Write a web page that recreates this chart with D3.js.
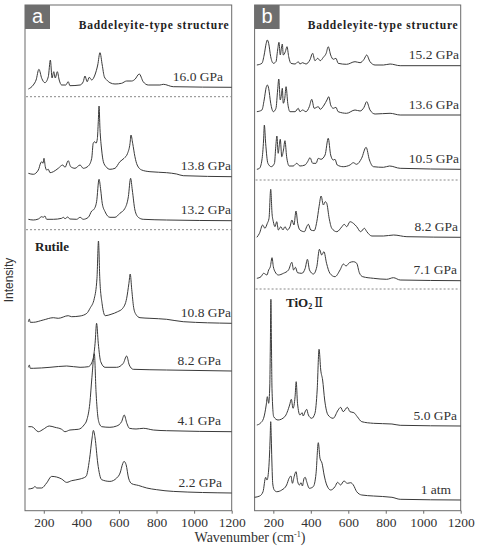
<!DOCTYPE html>
<html>
<head>
<meta charset="utf-8">
<style>
  body { margin: 0; background: #fff; }
  text { font-family: "Liberation Serif", "Times New Roman", serif; fill: #333; }
</style>
</head>
<body>
<script src="https://cdn.jsdelivr.net/npm/d3@7/dist/d3.min.js"></script>
<script>

// ---- data: [wavenumber, intensity above the spectrum's own baseline] ----
var a16_0 = [[118,-1.7],[144,2.3],[159,7.3],[174,18],[189,9],[206,4.6],[224,10.6],[235,27.3],[244,9.3],[253,15.6],[261,9.3],[272,15.6],[282,7.3],[295,2.3],[317,2.3],[330,5.6],[339,1.6],[393,2.3],[410,5.6],[419,11.3],[431,5.6],[442,10],[455,7.3],[472,12.3],[487,22.3],[499,34.6],[511,22.3],[522,10.6],[535,7.3],[552,4.6],[579,3.3],[614,4],[641,6.3],[668,6.3],[685,8],[708,13.3],[729,5.6],[756,2.3],[818,2.3],[836,3],[889,0.6],[1200,0]];
var a13_8 = [[118,3.4],[144,2.4],[171,6.7],[184,14],[190,15],[196,13.4],[201,18.4],[208,10],[215,6.7],[224,7.4],[233,4],[251,5],[277,8.4],[301,11.7],[313,9.4],[330,16],[343,10],[366,8.4],[393,11.7],[410,8.4],[437,10.7],[455,18.4],[463,33.4],[471,35],[478,33.4],[485,38],[490,55],[494,70.7],[499,48],[508,26.7],[517,15],[531,10],[552,7.4],[579,8.4],[605,15],[627,18.4],[646,23.4],[659,33.4],[664,41.7],[673,33.4],[685,20],[697,11.7],[721,6.7],[765,5],[854,4],[907,2.7],[942,1],[1200,0]];
var a13_2 = [[118,1.4],[144,0.7],[171,1.7],[189,4],[197,3.4],[206,4.7],[215,1.4],[251,1.4],[295,2.4],[304,3.4],[313,2],[327,3.7],[339,1.7],[375,1.4],[393,3.4],[410,1.4],[437,3.4],[455,9.7],[467,11.4],[481,19],[494,41.4],[503,30.7],[511,17.4],[526,9],[552,3.4],[579,3.4],[605,7.4],[632,12.4],[650,24],[662,42.4],[671,30.7],[685,10.7],[703,3.4],[729,1.4],[854,0.7],[1200,0]];
var a10_8 = [[118,1.6],[123,4.3],[128,1],[144,1],[197,3.3],[251,5.6],[277,5],[330,7.6],[348,6.6],[393,7.3],[429,10],[446,15],[469,25],[483,45],[491,82.3],[498,45],[510,20],[527,7.6],[558,9],[593,11.6],[620,15],[641,25],[653,40],[660,49.3],[668,34],[678,16],[690,9],[712,5.6],[765,5],[854,4],[942,1.6],[1200,0]];
var a8_2 = [[118,3.7],[123,6],[128,2.7],[144,2.7],[233,3.7],[322,5],[393,3.7],[437,4.3],[461,11],[473,27.7],[481,47.7],[490,27.7],[503,9.3],[526,3.7],[588,3.7],[623,7.7],[641,15],[655,6],[676,1.7],[854,1],[1200,0]];
var a4_1 = [[118,5],[136,5],[171,0],[197,2.4],[229,5.7],[259,4.4],[295,2.4],[313,0],[339,1.7],[384,2.4],[414,6.7],[429,11.7],[445,28.4],[456,54],[469,78],[478,40],[486,18],[496,8],[509,5],[552,4.4],[588,5.7],[614,10],[628,16.7],[642,8.4],[656,3.4],[691,2.7],[730,3.4],[783,1.7],[854,1],[1200,0]];
var a2_2 = [[118,4],[144,5],[153,6.6],[162,5],[189,5],[215,10],[242,16.6],[268,16],[295,14],[322,10.6],[348,12.3],[393,14],[425,16.6],[443,33.3],[457,55],[464,62.6],[473,55],[487,30],[508,13.3],[552,11.6],[588,15],[606,20],[620,29.3],[627,31.6],[638,28.3],[651,15],[668,9.3],[703,7.6],[748,5],[801,3.3],[889,1.6],[1200,0]];

var b15_2 = [[112,0.7],[139,2.4],[151,10.7],[162,22.4],[168,25.7],[175,22.4],[186,9],[200,2.4],[214,4],[223,15.7],[230,23.4],[237,10.7],[243,17.4],[248,21.7],[253,10.7],[264,14],[273,19],[282,9],[294,2.4],[316,1.7],[333,4],[342,1.7],[356,3],[374,1.7],[395,5.7],[410,12.4],[422,5],[437,7.4],[450,5],[467,8.4],[482,12.4],[493,19],[506,10.7],[520,6.4],[534,7.4],[546,2.4],[591,1.4],[636,4],[663,3],[684,6.4],[698,10.7],[716,4],[743,0.7],[788,0.7],[823,1.7],[877,0],[1200,0]];
var b13_6 = [[112,3.3],[139,5],[151,15],[162,27.7],[168,30],[175,26.7],[186,11.7],[200,3.3],[214,6.7],[223,25],[229,36],[237,15],[243,20],[248,26.7],[253,11.7],[261,16.7],[268,28.3],[277,11.7],[289,3.3],[316,3.3],[333,6.7],[342,3.3],[356,5],[374,3.3],[392,8.3],[405,15.7],[418,6.7],[440,8.3],[450,5.7],[471,10],[486,15],[496,18.3],[506,10],[520,6.7],[534,7.7],[546,3.3],[591,1.7],[636,5],[663,4],[684,7.7],[698,13.3],[716,5],[743,1],[823,1.7],[877,0],[1200,0]];
var b10_5 = [[112,0],[126,1],[139,9.3],[148,29.3],[152,44.3],[159,26],[171,6],[189,2.6],[206,6],[213,22.6],[219,33.3],[226,16],[231,22.6],[237,30],[245,12.6],[254,19.3],[262,28.6],[271,12.6],[285,3.3],[306,3.3],[325,6],[342,3.3],[369,4.3],[383,7.6],[396,11.6],[410,6],[428,6],[440,11],[454,10],[476,14.3],[493,31],[506,14.3],[520,9.3],[529,10],[541,4.3],[573,2.6],[609,4.3],[627,6.6],[644,5],[671,11],[695,22],[713,9.3],[734,2.6],[788,2],[820,3.3],[877,1],[1200,0]];
var b8_2 = [[112,0],[126,4],[143,12.3],[155,9],[168,14],[177,19],[186,48],[193,24],[200,15.6],[209,10.6],[218,15.6],[227,7.3],[240,10.6],[251,7.3],[262,10.6],[274,7.3],[289,10.6],[299,17.3],[310,12.3],[321,26.3],[330,14],[342,7.3],[366,5.6],[378,10.6],[387,13],[400,7.3],[418,6.6],[432,15.6],[444,30.6],[455,41.3],[467,32.3],[477,35.6],[485,34],[498,19],[512,9],[539,5.6],[566,10.6],[578,13],[592,10.6],[609,15.6],[627,14],[645,10.6],[666,5.6],[686,9],[699,5.6],[726,1.3],[788,1.3],[842,2.3],[913,0.6],[1200,0]];
var b7_1 = [[112,2.4],[134,4],[148,7.4],[166,5.7],[175,10.7],[184,14],[193,23],[200,14],[209,9],[227,5.7],[254,7.4],[281,10.7],[299,18.4],[308,10.7],[318,13.4],[329,8],[352,7.4],[370,12.4],[382,21.4],[393,10.7],[414,6.7],[432,14],[446,31.4],[458,25.7],[470,29],[484,17.4],[502,7.4],[529,4],[556,10.7],[574,16.7],[588,14.7],[606,18],[627,19],[645,17.4],[659,8],[677,4],[734,2.4],[805,1.4],[841,3],[877,0.7],[1200,0]];
var b5_0 = [[112,1],[130,2.7],[148,7.7],[162,21],[168,29.3],[175,22.7],[181,40],[184,80],[187,126.7],[190,80],[193,36],[202,9.3],[225,6],[261,9.3],[287,21],[296,26.7],[305,17.7],[316,29.3],[322,44.3],[329,22.7],[342,11],[354,13.3],[359,10],[372,15.3],[378,16.7],[387,11],[405,7.7],[422,12.7],[434,36],[444,76.7],[453,56],[463,46],[474,26],[492,11],[519,7.7],[546,16],[559,18.7],[573,14.3],[595,18.7],[609,14.3],[630,13.3],[648,9.3],[672,4.3],[734,2.7],[833,2],[877,0.7],[1200,0]];
var b1atm = [[100,2.7],[127,4],[145,8.3],[159,22.7],[166,20],[175,30],[180,47],[183,62],[186,78.3],[189,62],[192,40],[197,16],[205,10],[218,8.3],[245,10],[271,15],[284,21.7],[294,24],[302,16.7],[311,23.3],[321,28.3],[330,18.3],[339,15],[348,17.3],[355,14],[364,21.7],[370,22.7],[378,18.3],[392,11.7],[413,13.3],[428,26.7],[440,57.3],[449,41.7],[460,36.7],[471,25],[485,15],[506,10],[529,13.3],[543,17.7],[559,15],[577,19],[595,16.7],[613,17.3],[627,15],[645,8.3],[672,5],[734,4],[833,2.7],[877,0.7],[1200,0]];

// stacking offsets (same intensity units)
var seriesA  = [a16_0, a13_8, a13_2, a10_8, a8_2, a4_1, a2_2];
var labelsA  = ["16.0 GPa", "13.8 GPa", "13.2 GPa", "10.8 GPa", "8.2 GPa", "4.1 GPa", "2.2 GPa"];
var offsetsA = [423.4, 334, 290, 187.4, 139.7, 79, 17.7];
var seriesB  = [b15_2, b13_6, b10_5, b8_2, b7_1, b5_0, b1atm];
var labelsB  = ["15.2 GPa", "13.6 GPa", "10.5 GPa", "8.2 GPa", "7.1 GPa", "5.0 GPa", "1 atm"];
var offsetsB = [445, 395.7, 341.4, 273.4, 230, 84.7, 10.7];
var dividersA = [414, 281];
var dividersB = [330.7, 221.7];
var xTicks = [200, 400, 600, 800, 1000, 1200];

// ---- layout ----
var W = 478, H = 550, plotTop = 5, plotBottom = 510.7;
var labelEndA = [223, 231, 231, 231, 221, 221, 222];
var labelEndB = [459, 459, 459, 458, 457, 457, 451];

var svg = d3.select("body").append("svg")
  .attr("width", W)
  .attr("height", H);

function panel(left, right, series, labels, offsets, dividers, labelEnd, letter) {
  var x = d3.scaleLinear().domain([100, 1200]).range([left, right]);
  var y = d3.scaleLinear().domain([0, plotBottom - plotTop]).range([plotBottom, plotTop]);
  var g = svg.append("g");

  g.append("rect")
    .attr("x", left).attr("y", plotTop)
    .attr("width", right - left).attr("height", plotBottom - plotTop)
    .attr("fill", "#fff").attr("stroke", "#6b6b6b").attr("stroke-width", 1);

  g.selectAll(".divider")
    .data(dividers)
    .enter().append("line")
    .attr("class", "divider")
    .attr("x1", left + 1).attr("x2", right - 1)
    .attr("y1", function(d) { return y(d); })
    .attr("y2", function(d) { return y(d); })
    .attr("stroke", "#888").attr("stroke-width", 1)
    .attr("stroke-dasharray", "2,2");

  series.forEach(function(s, i) {
    var line = d3.line()
      .x(function(d) { return x(d[0]); })
      .y(function(d) { return y(offsets[i] + d[1]); })
      .curve(d3.curveMonotoneX);
    g.append("path")
      .datum(s)
      .attr("d", line)
      .attr("fill", "none")
      .attr("stroke", "#3a3a3a")
      .attr("stroke-width", 1);

    g.append("text")
      .attr("x", labelEnd[i])
      .attr("y", y(offsets[i]) - 6.5)
      .attr("text-anchor", "end")
      .style("font-size", "13.5px")
      .text(labels[i]);
  });

  var axis = d3.axisBottom(x).tickValues(xTicks).tickFormat(d3.format("d"))
    .tickSize(3).tickSizeOuter(0);
  var ax = g.append("g")
    .attr("transform", "translate(0," + plotBottom + ")")
    .call(axis);
  ax.select(".domain").remove();
  ax.selectAll(".tick line").attr("stroke", "#6b6b6b");
  ax.selectAll(".tick text")
    .attr("y", 7)
    .style("font-family", "'Liberation Serif', serif")
    .style("font-size", "13.5px")
    .attr("fill", "#333");

  // panel letter box
  g.append("rect")
    .attr("x", left).attr("y", plotTop)
    .attr("width", 25).attr("height", 24)
    .attr("fill", "#6e6e6e");
  g.append("text")
    .attr("x", left + 12.5).attr("y", plotTop + 18)
    .attr("text-anchor", "middle")
    .style("font-family", "'Liberation Sans', Arial, sans-serif")
    .style("font-size", "20px")
    .style("fill", "#fff")
    .text(letter);

  g.append("text")
    .attr("x", right - 3).attr("y", 29)
    .attr("text-anchor", "end")
    .attr("textLength", 150)
    .attr("lengthAdjust", "spacing")
    .style("font-weight", "bold")
    .style("font-size", "11.5px")
    .style("fill", "#222")
    .text("Baddeleyite-type structure");

  return g;
}

var ga = panel(25, 231.7, seriesA, labelsA, offsetsA, dividersA, labelEndA, "a");
var gb = panel(254.6, 460.7, seriesB, labelsB, offsetsB, dividersB, labelEndB, "b");

ga.append("text")
  .attr("x", 35).attr("y", 251)
  .style("font-weight", "bold")
  .style("font-size", "13px")
  .style("fill", "#222")
  .text("Rutile");

var tio = gb.append("text")
  .attr("x", 286).attr("y", 307)
  .style("font-weight", "bold")
  .style("font-size", "13px")
  .style("fill", "#222");
tio.append("tspan").text("TiO");
tio.append("tspan").attr("dy", 2).style("font-size", "8px").text("2");
tio.append("tspan").attr("dy", -2).attr("dx", 2)
  .style("font-family", "'DejaVu Serif', serif")
  .style("font-weight", "normal")
  .text("\u2161");

svg.append("text")
  .attr("transform", "translate(13,280) rotate(-90)")
  .attr("text-anchor", "middle")
  .style("font-family", "'Liberation Sans', Arial, sans-serif")
  .style("font-size", "12px")
  .text("Intensity");

var xl = svg.append("text")
  .attr("x", 250).attr("y", 542)
  .attr("text-anchor", "middle")
  .style("font-size", "14px");
xl.append("tspan").text("Wavenumber (cm");
xl.append("tspan").attr("dy", -5).style("font-size", "8px").text("-1");
xl.append("tspan").attr("dy", 5).text(")");

</script>
</body>
</html>
